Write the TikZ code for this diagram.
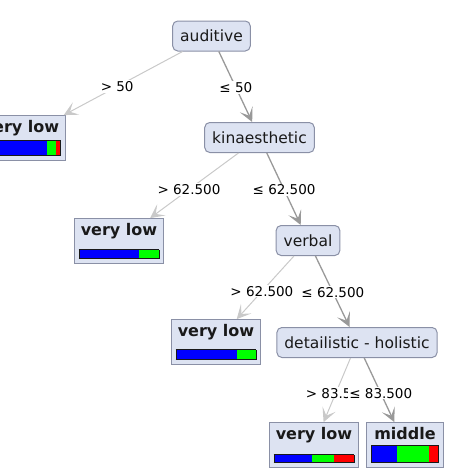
\documentclass[tikz,border=0pt]{standalone}
\usepackage{fontspec}
\setmainfont{DejaVu Sans}
\usepackage{xcolor}
\usetikzlibrary{arrows.meta}
\definecolor{dtfill}{HTML}{DDE3F2}
\definecolor{dtdraw}{HTML}{8A90A6}
\definecolor{dtlight}{HTML}{C9C9C9}
\definecolor{dtdark}{HTML}{999999}
% class distribution bar: blue, green, red widths, height
\newcommand{\classbar}[4]{{\setlength{\fboxsep}{0pt}\setlength{\fboxrule}{0.8pt}%
  \fbox{{\color{blue}\rule{#1pt}{#4pt}}{\color{green}\rule{#2pt}{#4pt}}{\color{red}\rule{#3pt}{#4pt}}}}}
\newcommand{\leafcontent}[5]{\vbox to 35pt{\offinterlineskip
  \halign{\hfil##\hfil\cr\strut #1\cr\noalign{\vfill}\classbar{#2}{#3}{#4}{#5}\cr}}}
\tikzset{
  dt split/.style={
    rectangle,
    rounded corners=5pt,
    minimum height=30pt,
    inner xsep=7.5pt,
    fill=dtfill,
    draw=dtdraw,
    line width=1pt,
    text=black!90,
    font=\fontsize{15.5}{18}\selectfont,
  },
  dt leaf/.style={
    rectangle,
    inner sep=4.5pt,
    fill=dtfill,
    draw=dtdraw,
    line width=1pt,
    text=black!90,
    font=\fontsize{16}{18}\selectfont\bfseries,
  },
  dt gt/.style={-{Stealth[length=14pt,width=14pt,inset=7pt]}, line width=1pt, dtlight},
  dt le/.style={-{Stealth[length=14pt,width=14pt,inset=7pt]}, line width=1.3pt, dtdark},
  dt label/.style={fill=white, inner sep=1pt, text=black, font=\fontsize{13.5}{16}\selectfont},
}
\begin{document}
\begin{tikzpicture}[x=1pt,y=-1pt]
  \useasboundingbox (0,0) rectangle (474,474);

  \node[dt split] (auditive) at (211.5,36) {auditive};
  \node[dt leaf] (leafA) at (21,138) {\leafcontent{very low}{66}{9}{4}{14}};
  \node[dt split] (kinaes) at (259.5,137.5) {kinaesthetic};
  \node[dt leaf] (leafB) at (119,241) {\leafcontent{very low}{59}{20}{0}{8}};
  \node[dt split] (verbal) at (308,240.5) {verbal};
  \node[dt leaf] (leafC) at (216,342) {\leafcontent{very low}{60}{19}{0}{9}};
  \node[dt split] (detail) at (357,342.5) {detailistic - holistic};
  \node[dt leaf] (leafD) at (314,445) {\leafcontent{very low}{37}{22}{20}{7}};
  \node[dt leaf] (leafE) at (405,445) {\leafcontent{middle}{25}{32}{9}{16}};

  \draw[dt gt] (auditive) -- node[dt label,pos=0.55] (gtA) {> 50} (leafA);
  \draw[dt le] (auditive) -- node[dt label,pos=0.51] (leA) {≤ 50} (kinaes);

  \draw[dt gt] (kinaes) -- node[dt label,pos=0.56] (gtB) {> 62.500} (leafB);
  \draw[dt le] (kinaes) -- node[dt label,pos=0.51] (leB) {≤ 62.500} (verbal);

  \draw[dt gt] (verbal) -- node[dt label,pos=0.56] (gtC) {> 62.500} (leafC);
  \draw[dt le] (verbal) -- node[dt label,pos=0.51] (leC) {≤ 62.500} (detail);

  \draw[dt gt] (detail) -- node[dt label,pos=0.55,xshift=-7pt] (gtD) {> 83.5} (leafD);
  \draw[dt le] (detail) -- node[dt label,pos=0.55] (leD) {≤ 83.500} (leafE);
\end{tikzpicture}
\end{document}
